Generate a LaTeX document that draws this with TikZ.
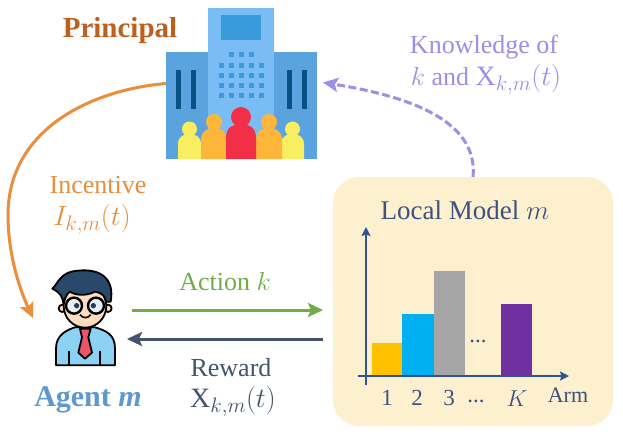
\RequirePackage{fix-cm}
\documentclass[tikz,border=0pt]{standalone}
\usepackage{fontspec}
\setmainfont{Liberation Serif}
\usetikzlibrary{arrows.meta}
\DeclareMathSizes{28}{28}{21}{16}
\newcommand{\fsz}[1]{\fontsize{#1}{#1}\selectfont}
\newcommand{\Xkm}{{\fsz{28}$\mathrm{X}_{k,m}(t)$}}
\newcommand{\Ikm}{{\fsz{28}$I_{k,m}(t)$}}
\newcommand{\persn}[6]{%
  \fill[#6] ({#1-#2},159) -- ({#1-#2},{#3+#2*0.9}) .. controls ({#1-#2},{#3+#2*0.2}) and ({#1-#2*0.5},#3) .. (#1,#3)
    .. controls ({#1+#2*0.5},#3) and ({#1+#2},{#3+#2*0.2}) .. ({#1+#2},{#3+#2*0.9}) -- ({#1+#2},159) -- cycle;
  \fill[#6] (#1,#4) circle (#5);}
\definecolor{orangeline}{HTML}{E98D3E}
\definecolor{principalc}{HTML}{BE5F1E}
\definecolor{purplec}{HTML}{9B8FE6}
\definecolor{greenc}{HTML}{70AD47}
\definecolor{darkc}{HTML}{44546A}
\definecolor{agentc}{HTML}{5F98CF}
\definecolor{axisc}{HTML}{2F5597}
\definecolor{modeltxt}{HTML}{3A5380}
\definecolor{panel}{HTML}{FDF0CF}
\definecolor{wing}{HTML}{5AA3DE}
\definecolor{tower}{HTML}{7ABDF5}
\definecolor{win}{HTML}{3A9BDB}
\definecolor{bardark}{HTML}{0A5087}
\definecolor{peryellow}{HTML}{F8EE60}
\definecolor{perorange}{HTML}{FDB53A}
\definecolor{perred}{HTML}{F22F46}
\definecolor{skin}{HTML}{FFDCC0}
\definecolor{shirt}{HTML}{8CD2F5}
\definecolor{tiec}{HTML}{EB5569}
\definecolor{hairc}{HTML}{2A4869}
\definecolor{lens}{HTML}{E8F0F8}
\definecolor{pupil}{HTML}{283C55}
\tikzset{
  lbl/.style={inner sep=0pt,font=\fsz{26}},
  tick/.style={inner sep=0pt,font=\fsz{23},text=modeltxt},
  conn/.style={line width=3pt,-{Stealth[length=15pt,width=14pt,inset=3pt]}},
  axisline/.style={axisc,line width=2pt,-{Stealth[length=9pt,width=9pt,inset=1.5pt]}},
  hit/.style={inner sep=0pt,outer sep=0pt,draw=none}
}
\begin{document}
\begin{tikzpicture}[x=1pt,y=-1pt]
\useasboundingbox (0,0) rectangle (623,436);
\fill[white] (0,0) rectangle (623,436);
% local model panel
\node[hit,fill=panel,rounded corners=26pt,minimum width=280pt,minimum height=249pt] (model) at (473,301.5) {};
% building
\node[hit,minimum width=151pt,minimum height=151pt] (principal) at (241.5,83.5) {};
\fill[wing] (166,52) rectangle (317,159);
\fill[tower] (208,8) rectangle (274,159);
\fill[win] (221,15) rectangle (261,40);
\foreach \x in {176,191,287,302} \fill[bardark] (\x,70) rectangle ++(4.6,39);
\foreach \x in {231,241,251} \fill[win] ({\x-2.5},52.5) rectangle ++(5,5);
\foreach \y in {65,75,85,95} \foreach \x in {221,231,241,251,261}
  \fill[win] ({\x-2.5},{\y-2.5}) rectangle ++(5,5);
\persn{189.5}{11.5}{134}{129}{7.5}{peryellow}
\persn{292.5}{11.5}{134}{129}{7.5}{peryellow}
\persn{214}{13}{128}{122}{8}{perorange}
\persn{269}{13}{128}{122}{8}{perorange}
\persn{241}{15}{124}{117}{10}{perred}
% agent icon
\node[hit,minimum width=94pt,minimum height=100pt] (agent) at (80,318) {};
\begin{scope}[shift={(20,250)},x=0.3333pt,y=-0.3333pt,line width=1.8pt,line join=round]
  \draw[black,fill=shirt] (108,346) -- (108,295) .. controls (108,255) and (140,240) .. (165,232) -- (225,232) .. controls (260,242) and (285,255) .. (285,295) -- (285,346) -- cycle;
  \draw[black] (147,303) -- (147,346) (240,303) -- (240,346);
  \draw[black,fill=tiec] (180,236) -- (212,236) -- (205,262) -- (216,308) -- (195,326) -- (175,308) -- (186,262) -- cycle;
  \draw[black,fill=skin] (127,175) circle (11);
  \draw[black,fill=skin] (264,175) circle (11);
  \draw[black,fill=skin] (195,168) ellipse (64 and 65);
  \draw[black,fill=hairc] (130,160) .. controls (128,145) and (125,130) .. (97,116) .. controls (115,100) and (120,65) .. (175,62) .. controls (240,55) and (285,85) .. (272,155) -- (258,155) .. controls (255,140) and (250,130) .. (225,125) .. controls (195,140) and (165,135) .. (150,125) .. controls (140,130) and (135,145) .. (130,160) -- cycle;
  \draw[black,line width=2.4pt,fill=lens] (162,167) circle (24);
  \draw[black,line width=2.4pt,fill=lens] (228,167) circle (24);
  \fill[pupil] (170,167) circle (8);
  \fill[pupil] (220,167) circle (8);
  \draw[black,line width=1.6pt] (180,194) .. controls (188,206) and (204,206) .. (212,194);
\end{scope}
% chart
\fill[fill={rgb,255:red,255;green,192;blue,0}] (372,343) rectangle (402,376);
\fill[fill={rgb,255:red,0;green,176;blue,240}] (402,314) rectangle (434,376);
\fill[fill={rgb,255:red,165;green,165;blue,165}] (434,271) rectangle (465,376);
\fill[fill={rgb,255:red,112;green,48;blue,160}] (501,304) rectangle (532,376);
\coordinate (yfoot) at (366,385);
\coordinate (ytop) at (366,227);
\coordinate (xfoot) at (358,376);
\coordinate (xend) at (569,376);
\draw[axisline] (yfoot) -- (ytop);
\draw[axisline] (xfoot) -- (xend);
% connectors
\draw[conn,orangeline] (principal.west) .. controls (90,90) and (8,130) .. (8,215) .. controls (8,255) and (20,290) .. (agent.west);
\draw[conn,purplec,dash pattern=on 8pt off 3.5pt] (model.north) .. controls (478,125) and (420,98) .. ([xshift=6pt,yshift=1pt]principal.east);
\draw[conn,greenc,shorten <=5pt,shorten >=10pt] ([yshift=8pt]agent.east) -- ([yshift=-8.5pt]model.west);
\draw[conn,darkc,shorten <=10pt] ([yshift=-37.5pt]model.west) -- ([yshift=-21pt]agent.east);
% labels
\node[inner sep=0pt,font=\fsz{29}\bfseries,text=principalc] (tprincipal) at (120,31) {Principal};
\node[lbl,text=purplec] (tknow) at (484,47) {Knowledge of};
\node[lbl,text=purplec] (tknow2) at (486,80) {$k$ and \Xkm};
\node[lbl,text=orangeline] (tinc) at (98,185) {Incentive};
\node[lbl,text=orangeline] (tinc2) at (92,220) {\Ikm};
\node[lbl,text=greenc] (taction) at (225,282) {Action $k$};
\node[lbl,text=darkc] (treward) at (231,368) {Reward};
\node[lbl,text=darkc] (treward2) at (233,402) {\Xkm};
\node[inner sep=0pt,font=\fsz{30}\bfseries,text=agentc] (tagent) at (88,400) {Agent \textit{m}};
\node[lbl,text=modeltxt,font=\fsz{27}] (tmodel) at (465,210) {Local Model $m$};
\node[tick] (t1) at (387,398) {1};
\node[tick] (t2) at (417,398) {2};
\node[tick] (t3) at (449,398) {3};
\node[tick,anchor=base] (t4) at (476,402) {...};
\node[tick] (tK) at (517,399) {$K$};
\node[tick,font=\fsz{22}] (tarm) at (568,395) {Arm};
\node[tick,anchor=base] (tdots) at (478,342) {...};
\end{tikzpicture}
\end{document}
